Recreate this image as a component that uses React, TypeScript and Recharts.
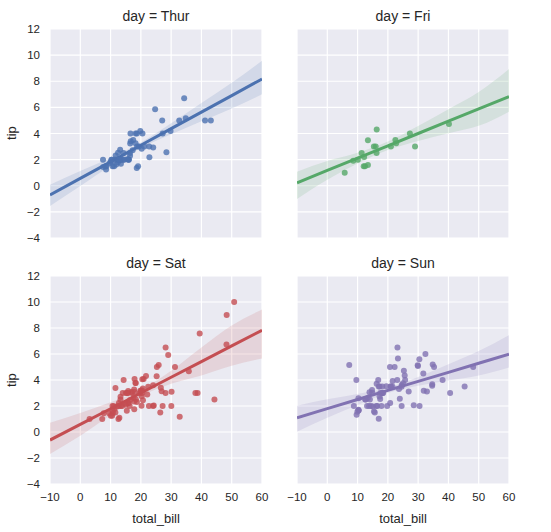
import { ComposedChart, Scatter, Line, Area, XAxis, YAxis, CartesianGrid } from 'recharts'

const xTicks = [-10, 0, 10, 20, 30, 40, 50, 60]
const yTicks = [-4, -2, 0, 2, 4, 6, 8, 10, 12]
const fitX = [-10, 0, 10, 20, 30, 40, 50, 60]

const thurBill = [27.2, 22.76, 17.29, 19.44, 16.66, 10.07, 32.68, 15.98, 34.83, 13.03, 18.28, 24.71, 21.16, 10.65, 12.43, 24.08, 11.69, 13.42, 14.26, 15.95, 12.48, 29.8, 8.52, 14.52, 11.38, 22.82, 19.08, 20.27, 11.17, 12.26, 18.26, 8.51, 10.33, 14.15, 16.0, 13.16, 17.47, 34.3, 41.19, 27.05, 16.43, 8.35, 18.64, 11.87, 9.78, 7.51, 19.81, 28.44, 15.48, 16.58, 7.56, 10.34, 43.11, 13.0, 13.51, 18.71, 12.74, 13.0, 16.4, 20.53, 16.47, 18.78]
const thurTip = [4.0, 3.0, 2.71, 3.0, 3.4, 1.83, 5.0, 2.03, 5.17, 2.0, 4.0, 5.85, 3.0, 1.5, 1.8, 2.92, 2.31, 1.68, 2.5, 2.0, 2.52, 4.2, 1.48, 2.0, 2.0, 2.18, 1.5, 2.83, 1.5, 2.0, 3.25, 1.25, 2.0, 2.0, 2.0, 2.75, 3.5, 6.7, 5.0, 5.0, 2.3, 1.5, 1.36, 1.63, 1.73, 2.0, 4.19, 2.56, 2.02, 4.0, 1.44, 2.0, 5.0, 2.0, 2.0, 4.0, 2.01, 2.0, 2.5, 4.0, 3.23, 3.0]
const thurFit = [-0.71, 0.56, 1.83, 3.1, 4.37, 5.64, 6.9, 8.17]
const thurLow = [-1.55, -0.01, 1.52, 2.89, 3.95, 4.94, 5.91, 7.0]
const thurHigh = [0.08, 1.13, 2.14, 3.31, 4.79, 6.34, 7.89, 9.57]

const friBill = [28.97, 22.49, 5.75, 16.32, 22.75, 40.17, 27.28, 12.03, 21.01, 12.46, 11.35, 15.38, 12.16, 13.42, 8.58, 15.98, 13.42, 16.27, 10.09]
const friTip = [3.0, 3.5, 1.0, 4.3, 3.25, 4.73, 4.0, 1.5, 3.0, 1.5, 2.5, 3.0, 2.2, 3.48, 1.92, 3.0, 1.58, 2.5, 2.0]
const friFit = [0.23, 1.17, 2.11, 3.06, 4.0, 4.94, 5.88, 6.82]
const friLow = [-1.02, 0.45, 1.7, 2.74, 3.43, 4.02, 4.59, 5.67]
const friHigh = [1.07, 1.89, 2.52, 3.38, 4.58, 5.86, 7.17, 8.94]

const satBill = [20.65, 17.92, 20.29, 15.77, 39.42, 19.82, 17.81, 13.37, 12.69, 21.7, 19.65, 9.55, 18.35, 15.06, 20.69, 17.78, 24.06, 16.31, 16.93, 18.69, 31.27, 16.04, 38.01, 26.41, 11.24, 48.27, 20.29, 13.81, 11.02, 18.29, 17.59, 20.08, 16.45, 3.07, 20.23, 15.01, 12.02, 17.07, 26.86, 25.28, 14.73, 10.51, 17.92, 44.3, 22.42, 20.92, 15.36, 20.49, 25.21, 18.24, 14.31, 14.0, 7.25, 10.59, 10.63, 50.81, 15.81, 26.59, 38.73, 24.27, 12.76, 30.06, 25.89, 48.33, 13.27, 28.17, 12.9, 28.15, 11.59, 7.74, 30.14, 20.45, 13.28, 22.12, 24.01, 15.69, 11.61, 10.77, 15.53, 10.07, 12.6, 32.83, 35.83, 29.03, 27.18, 22.67, 17.82]
const satTip = [3.35, 4.08, 2.75, 2.23, 7.58, 3.18, 2.34, 2.0, 2.0, 4.3, 3.0, 1.45, 2.5, 3.0, 2.45, 3.27, 3.6, 2.0, 3.07, 2.31, 5.0, 2.24, 3.0, 1.5, 1.76, 6.73, 3.21, 2.0, 1.98, 3.76, 2.64, 3.15, 2.47, 1.0, 2.01, 2.09, 1.97, 3.0, 3.14, 5.0, 2.2, 1.25, 3.08, 2.5, 3.48, 4.08, 1.64, 4.06, 4.29, 3.76, 4.0, 3.0, 1.0, 1.61, 2.0, 10.0, 3.16, 3.41, 3.0, 2.03, 2.23, 2.0, 5.16, 9.0, 2.5, 6.5, 1.1, 3.0, 1.5, 1.44, 3.09, 3.0, 2.72, 2.88, 2.0, 3.0, 3.39, 1.47, 3.0, 1.25, 1.0, 1.17, 4.67, 5.92, 2.0, 2.0, 1.75]
const satFit = [-0.62, 0.59, 1.79, 3.0, 4.21, 5.41, 6.62, 7.83]
const satLow = [-1.69, -0.29, 1.29, 2.75, 3.71, 4.35, 5.1, 5.65]
const satHigh = [0.71, 1.46, 2.29, 3.25, 4.71, 6.5, 8.2, 9.42]

const sunBill = [16.99, 10.34, 21.01, 23.68, 24.59, 25.29, 8.77, 26.88, 15.04, 14.78, 10.27, 35.26, 15.42, 18.43, 14.83, 21.58, 10.33, 16.29, 16.97, 17.46, 13.94, 9.68, 30.4, 18.29, 22.23, 32.4, 28.55, 18.04, 12.54, 10.29, 34.81, 9.94, 25.56, 19.49, 38.07, 23.95, 25.71, 17.31, 29.93, 14.07, 13.13, 17.26, 24.55, 19.77, 29.85, 48.17, 25.0, 13.39, 16.49, 21.5, 12.66, 16.21, 13.81, 17.51, 24.52, 20.76, 31.71, 7.25, 31.85, 16.82, 32.9, 17.89, 14.48, 9.6, 34.63, 34.65, 23.33, 45.35, 23.17, 40.55, 20.69, 20.9, 30.46, 18.15, 23.1, 15.69]
const sunTip = [1.01, 1.66, 3.5, 3.31, 3.61, 4.71, 2.0, 3.12, 1.96, 3.23, 1.71, 5.0, 1.57, 3.0, 3.02, 3.92, 1.67, 3.71, 3.5, 2.54, 3.06, 1.32, 5.6, 3.0, 5.0, 6.0, 2.05, 3.0, 2.5, 2.6, 5.2, 1.56, 4.34, 3.51, 4.0, 2.55, 4.0, 3.5, 5.07, 2.5, 2.0, 2.74, 2.0, 2.0, 5.14, 5.0, 3.75, 2.61, 2.0, 3.5, 2.5, 2.0, 2.0, 3.0, 3.48, 2.24, 4.5, 5.15, 3.18, 4.0, 3.11, 2.0, 2.0, 4.0, 3.55, 3.68, 5.65, 3.5, 6.5, 3.0, 5.0, 3.5, 2.0, 3.5, 4.0, 1.5]
const sunFit = [1.1, 1.8, 2.5, 3.2, 3.89, 4.59, 5.29, 5.99]
const sunLow = [0.02, 1.09, 2.08, 3.0, 3.55, 3.96, 4.35, 4.96]
const sunHigh = [2.02, 2.51, 2.92, 3.4, 4.23, 5.22, 6.23, 7.45]

const FONT = '"Liberation Sans", Arial, sans-serif'
const TEXT = '#262626'
const PLOT_W = 212
const PAD = 12 // room around the plot so edge tick labels are not clipped

const fmt = (v: number) => (v < 0 ? `\u2212${-v}` : `${v}`)

interface PanelProps {
  bills: number[]
  tips: number[]
  fit: number[]
  low: number[]
  high: number[]
  color: string
  left: number
  top: number
  plotH: number
  showX: boolean
  showY: boolean
}

function Panel({ bills, tips, fit, low, high, color, left, top, plotH, showX, showY }: PanelProps) {
  const yw = showY ? 50 : 0
  const xh = showX ? 30 : 0
  const points = bills.map((b, i) => ({ x: b, y: tips[i] }))
  const lineData = fitX.map((x, i) => ({ x, fit: fit[i], band: [low[i], high[i]] }))

  return (
    <div style={{ position: 'absolute', left: left - yw - PAD, top: top - PAD }}>
      <ComposedChart
        width={PLOT_W + yw + 2 * PAD}
        height={plotH + xh + 2 * PAD}
        data={lineData}
        margin={{ top: PAD, right: PAD, bottom: PAD, left: PAD }}
      >
        <CartesianGrid
          fill="#EAEAF2"
          stroke="#ffffff"
          strokeWidth={1.2}
          horizontalValues={yTicks}
          verticalValues={xTicks}
        />
        <XAxis
          type="number"
          dataKey="x"
          domain={[-10, 60]}
          ticks={xTicks}
          interval={0}
          allowDataOverflow
          hide={!showX}
          height={30}
          axisLine={false}
          tickLine={false}
          tickSize={0}
          tickMargin={9}
          tick={{ fill: TEXT, fontSize: 11.5, fontFamily: FONT }}
          tickFormatter={fmt}
        />
        <YAxis
          type="number"
          domain={[-4, 12]}
          ticks={yTicks}
          interval={0}
          allowDataOverflow
          hide={!showY}
          width={50}
          axisLine={false}
          tickLine={false}
          tickSize={0}
          tickMargin={10}
          tick={{ fill: TEXT, fontSize: 11.5, fontFamily: FONT }}
          tickFormatter={fmt}
        />
        <Scatter
          data={points}
          dataKey="y"
          isAnimationActive={false}
          shape={(p: any) => <circle cx={p.cx} cy={p.cy} r={3} fill={color} fillOpacity={0.8} />}
        />
        <Area
          dataKey="band"
          type="monotone"
          stroke="none"
          fill={color}
          fillOpacity={0.15}
          dot={false}
          activeDot={false}
          isAnimationActive={false}
        />
        <Line
          dataKey="fit"
          type="linear"
          stroke={color}
          strokeWidth={3}
          dot={false}
          activeDot={false}
          isAnimationActive={false}
        />
      </ComposedChart>
    </div>
  )
}

export default function App() {
  return (
    <div style={{ position: 'absolute', left: 0, top: 0, width: 551, height: 532, background: '#fff', fontFamily: FONT }}>
      <Panel bills={thurBill} tips={thurTip} fit={thurFit} low={thurLow} high={thurHigh}
        color="#4C72B0" left={50} top={29} plotH={209} showX={false} showY={true} />
      <Panel bills={friBill} tips={friTip} fit={friFit} low={friLow} high={friHigh}
        color="#55A868" left={297} top={29} plotH={209} showX={false} showY={false} />
      <Panel bills={satBill} tips={satTip} fit={satFit} low={satLow} high={satHigh}
        color="#C44E52" left={50} top={276} plotH={208} showX={true} showY={true} />
      <Panel bills={sunBill} tips={sunTip} fit={sunFit} low={sunLow} high={sunHigh}
        color="#8172B2" left={297} top={276} plotH={208} showX={true} showY={false} />

      {/* facet titles and axis labels */}
      <svg width={551} height={532} style={{ position: 'absolute', left: 0, top: 0, pointerEvents: 'none' }}>
        <g fill={TEXT} fontFamily={FONT} textAnchor="middle">
          <text x={156} y={21} fontSize={14}>day = Thur</text>
          <text x={403} y={21} fontSize={14}>day = Fri</text>
          <text x={156} y={268} fontSize={14}>day = Sat</text>
          <text x={403} y={268} fontSize={14}>day = Sun</text>
          <text x={156} y={523} fontSize={13}>total_bill</text>
          <text x={403} y={523} fontSize={13}>total_bill</text>
          <text x={16} y={133} fontSize={13} transform="rotate(-90 16 133)">tip</text>
          <text x={16} y={380} fontSize={13} transform="rotate(-90 16 380)">tip</text>
        </g>
      </svg>
    </div>
  )
}
